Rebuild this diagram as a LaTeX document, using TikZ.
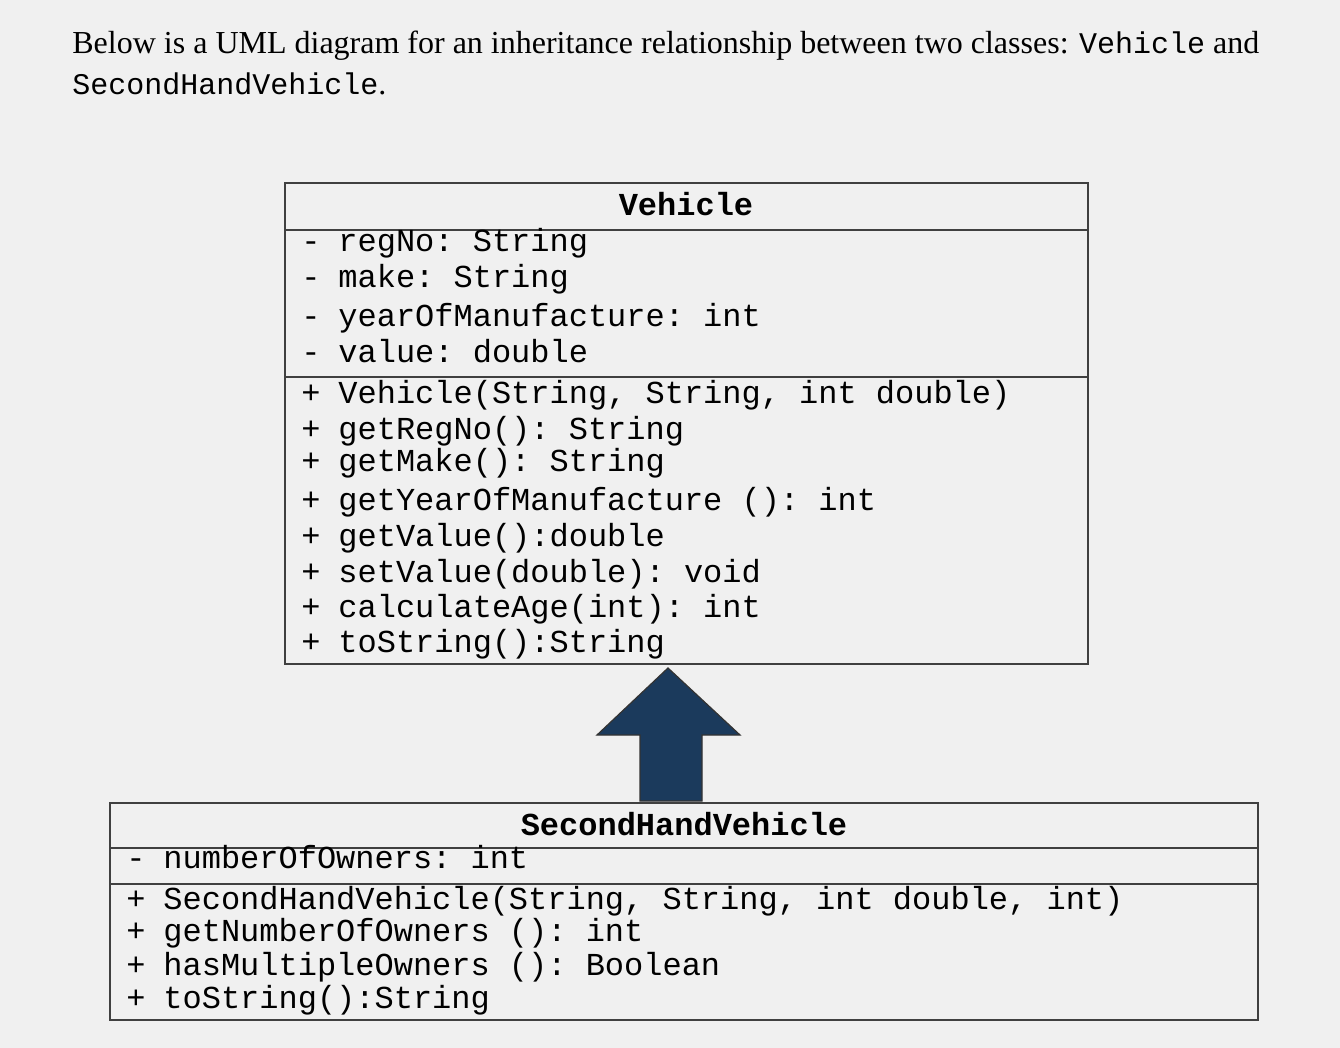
\documentclass[tikz,border=0pt]{standalone}
\usepackage{fontspec}
\setmainfont{Liberation Serif}
\setmonofont{Liberation Mono}
\begin{document}
\begin{tikzpicture}[x=0.5pt,y=-0.5pt,
  mono/.style={anchor=base west,inner sep=0pt,font=\ttfamily\fontsize{16}{18}\selectfont},
  sym/.style={anchor=base,inner sep=0pt,font=\ttfamily\fontsize{16}{18}\selectfont},
  hdr/.style={anchor=base,inner sep=0pt,font=\ttfamily\bfseries\fontsize{16}{18}\selectfont},
  umlbox/.style={draw=black!75,line width=0.8pt},
  inh/.style={fill={rgb,255:red,27;green,58;blue,92},draw=black!80,line width=0.6pt}]
\fill[gray!12] (0,0) rectangle (1340,1048);
\useasboundingbox (0,0) rectangle (1340,1048);
\node[anchor=base west,inner sep=0pt,font=\fontsize{16}{20}\selectfont] (t1) at (72,54) {Below is a UML diagram for an inheritance relationship between two classes: {\fontsize{15}{18}\selectfont\texttt{Vehicle}} and};
\node[anchor=base west,inner sep=0pt,font=\fontsize{16}{20}\selectfont] (t2) at (72,95) {{\fontsize{15}{18}\selectfont\texttt{SecondHandVehicle}}.};
% Vehicle
\draw[umlbox] (285,183) rectangle (1088,664);
\draw[umlbox] (285,230) -- (1088,230);
\draw[umlbox] (285,377) -- (1088,377);
\node[hdr] (vh) at (686,216) {Vehicle};
\foreach \y/\s/\t in {243/-/regNo: String,279/-/make: String,318/-/yearOfManufacture: int,354/-/value: double,
 395/+/{Vehicle(String, String, int double)},430/+/getRegNo(): String,463/+/getMake(): String,
 501/+/getYearOfManufacture (): int,537/+/getValue():double,573/+/setValue(double): void,
 608/+/calculateAge(int): int,643/+/toString():String}
 {\node[sym] at (311,\y+9) {\s}; \node[mono] at (338,\y+9) {\t};}
% arrow
\coordinate (tip) at (668,668);
\draw[inh] (tip) -- (740,735) -- (702,735) -- (702,801) -- (640,801) -- (640,735) -- (597,735) -- cycle;
% SecondHandVehicle
\draw[umlbox] (110,803) rectangle (1258,1020);
\draw[umlbox] (110,848) -- (1258,848);
\draw[umlbox] (110,884) -- (1258,884);
\node[hdr] (sh) at (684,835) {SecondHandVehicle};
\foreach \y/\s/\t in {859/-/numberOfOwners: int,900/+/{SecondHandVehicle(String, String, int double, int)},
 932/+/getNumberOfOwners (): int,966/+/hasMultipleOwners (): Boolean,999/+/toString():String}
 {\node[sym] at (136,\y+9) {\s}; \node[mono] at (163,\y+9) {\t};}
\end{tikzpicture}
\end{document}
